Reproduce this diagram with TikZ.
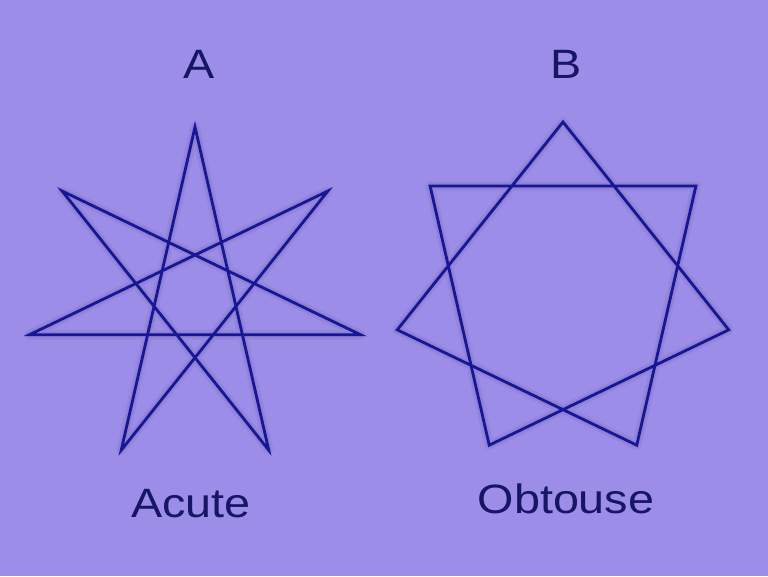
\documentclass[tikz,border=0pt]{standalone}
\usepackage{fontspec}
\setmainfont{Liberation Sans}
\usetikzlibrary{calc}
\definecolor{bg}{RGB}{156,141,233}
\definecolor{ln}{RGB}{22,22,150}
\definecolor{tx}{RGB}{22,22,100}
\begin{document}
\begin{tikzpicture}[x=1pt,y=1pt,
  starline/.style={draw=ln,line width=2.8pt,line join=miter},
  shadowline/.style={draw=black,line join=round,line cap=round},
  lbl/.style={text=tx,font=\fontsize{41}{48}\selectfont,anchor=base,inner sep=0pt,xscale=1.14}]
\fill[bg] (0,0) rectangle (768,576);
\useasboundingbox (0,0) rectangle (768,576);
\foreach \i in {0,...,6} {
  \coordinate (a\i) at ($(195,279)+(90+\i*360/7:170)$);
  \coordinate (b\i) at ($(563,284)+(90+\i*360/7:170)$);
}
% soft shadows
\begin{scope}[shift={(1,-3)}]
\foreach \w/\o in {10/0.04,6/0.05}{
  \draw[shadowline,line width=\w pt,opacity=\o] (a0) -- (a3) -- (a6) -- (a2) -- (a5) -- (a1) -- (a4) -- cycle;
  \draw[shadowline,line width=\w pt,opacity=\o] (b0) -- (b2) -- (b4) -- (b6) -- (b1) -- (b3) -- (b5) -- cycle;
}
\end{scope}
\draw[starline] (a0) -- (a3) -- (a6) -- (a2) -- (a5) -- (a1) -- (a4) -- cycle;
\draw[starline] (b0) -- (b2) -- (b4) -- (b6) -- (b1) -- (b3) -- (b5) -- cycle;
% labels
\node[lbl] (lA) at (199,497) {A};
\node[lbl] (lB) at (566,497) {B};
\node[lbl] (lac) at (191,59) {Acute};
\node[lbl] (lob) at (566,63) {Obtouse};
\end{tikzpicture}
\end{document}
